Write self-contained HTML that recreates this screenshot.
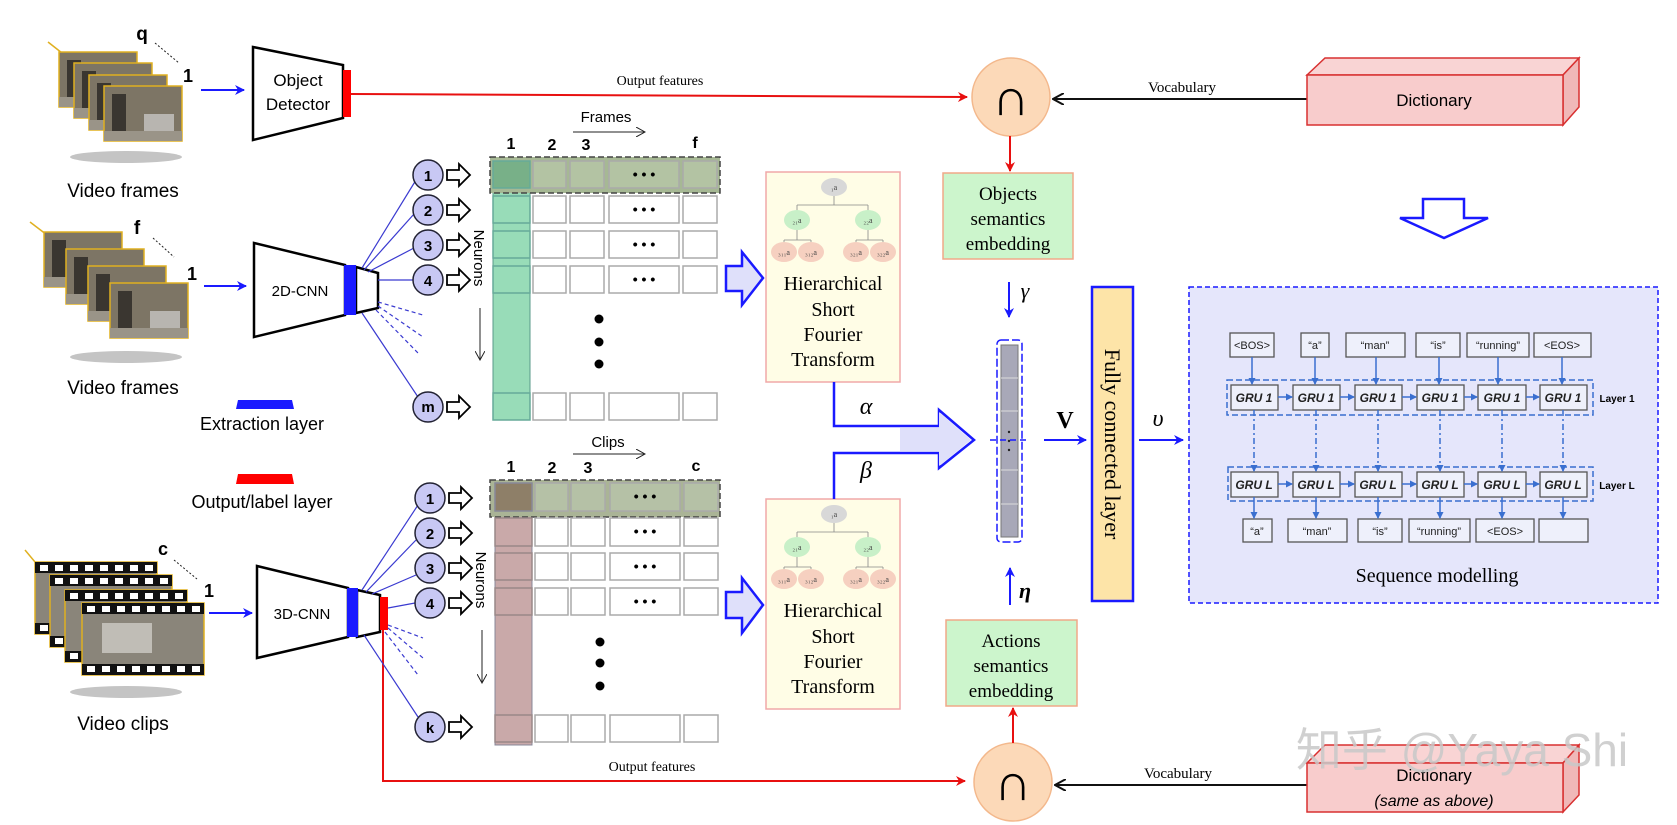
<!DOCTYPE html>
<html><head><meta charset="utf-8"><style>
html,body{margin:0;padding:0;background:#fff;}
svg{display:block;}
.s{font-family:"Liberation Sans",sans-serif;}
.r{font-family:"Liberation Serif",serif;}
</style></head><body>
<svg width="1677" height="825" viewBox="0 0 1677 825" xmlns="http://www.w3.org/2000/svg">
<defs>
<marker id="ab" markerWidth="10" markerHeight="10" refX="9" refY="5" orient="auto" markerUnits="userSpaceOnUse"><path d="M0,0 L10,5 L0,10 L3,5z" fill="#1a1aff"/></marker>
<marker id="ar" markerWidth="10" markerHeight="10" refX="9" refY="5" orient="auto" markerUnits="userSpaceOnUse"><path d="M0,0 L10,5 L0,10 L3,5z" fill="#e81010"/></marker>
<marker id="ak" markerWidth="12" markerHeight="12" refX="10" refY="6" orient="auto" markerUnits="userSpaceOnUse"><path d="M0,0 L11,6 L0,12" fill="none" stroke="#111" stroke-width="2"/></marker>
<marker id="sb" markerWidth="7" markerHeight="7" refX="6" refY="3.5" orient="auto" markerUnits="userSpaceOnUse"><path d="M0,0 L7,3.5 L0,7z" fill="#3a6fd0"/></marker>
<marker id="kk" markerWidth="10" markerHeight="10" refX="9" refY="5" orient="auto" markerUnits="userSpaceOnUse"><path d="M0,0 L9,5 L0,10" fill="none" stroke="#222"/></marker>
<g id="frm"><rect width="78" height="55" fill="#7d7565" stroke="#e0b020" stroke-width="1.5"/><rect x="8" y="8" width="14" height="40" fill="#3a3630"/><rect x="40" y="28" width="30" height="20" fill="#b8b5b0"/><rect x="0" y="45" width="78" height="10" fill="#9a9488"/></g>
<g id="clip"><rect width="122" height="72" fill="#8a857a" stroke="#e0b020" stroke-width="1.5"/><rect x="0" y="0" width="122" height="11" fill="#111"/><rect x="0" y="61" width="122" height="11" fill="#111"/>
<g fill="#fff"><rect x="5" y="3" width="8" height="6"/><rect x="20" y="3" width="8" height="6"/><rect x="35" y="3" width="8" height="6"/><rect x="50" y="3" width="8" height="6"/><rect x="65" y="3" width="8" height="6"/><rect x="80" y="3" width="8" height="6"/><rect x="95" y="3" width="8" height="6"/><rect x="110" y="3" width="8" height="6"/>
<rect x="5" y="63" width="8" height="6"/><rect x="20" y="63" width="8" height="6"/><rect x="35" y="63" width="8" height="6"/><rect x="50" y="63" width="8" height="6"/><rect x="65" y="63" width="8" height="6"/><rect x="80" y="63" width="8" height="6"/><rect x="95" y="63" width="8" height="6"/><rect x="110" y="63" width="8" height="6"/></g>
<rect x="20" y="20" width="50" height="30" fill="#c0bdb6"/></g>
</defs>

<!-- Stack 1 -->
<line x1="48" y1="42" x2="104" y2="86" stroke="#e0b020" stroke-width="1.5"/>
<use href="#frm" x="59" y="52"/><use href="#frm" x="74" y="63"/><use href="#frm" x="89" y="75"/><use href="#frm" x="104" y="86"/>
<ellipse cx="126" cy="157" rx="56" ry="6" fill="#c4c4c4"/>
<text x="142" y="40" class="s" font-size="19" font-weight="bold" text-anchor="middle">q</text>
<line x1="155" y1="43" x2="179" y2="63" stroke="#222" stroke-dasharray="2,2"/>
<text x="188" y="82" class="s" font-size="18" font-weight="bold" text-anchor="middle">1</text>
<text x="123" y="197" class="s" font-size="19" text-anchor="middle">Video frames</text>
<line x1="201" y1="90" x2="244" y2="90" stroke="#1a1aff" stroke-width="2" marker-end="url(#ab)"/>
<path d="M253,47 L343,65 L343,118 L253,140z" fill="#fff" stroke="#000" stroke-width="2.5"/>
<rect x="343" y="70" width="8" height="47" fill="#f00"/>
<text x="298" y="86" class="s" font-size="17" text-anchor="middle">Object</text>
<text x="298" y="110" class="s" font-size="17" text-anchor="middle">Detector</text>
<line x1="351" y1="94" x2="967" y2="97" stroke="#e81010" stroke-width="2" marker-end="url(#ar)"/>
<text x="660" y="85" class="r" font-size="14" text-anchor="middle">Output features</text>

<!-- Stack 2 -->
<line x1="30" y1="222" x2="110" y2="283" stroke="#e0b020" stroke-width="1.5"/>
<use href="#frm" x="44" y="232"/><use href="#frm" x="66" y="249"/><use href="#frm" x="88" y="266"/><use href="#frm" x="110" y="283"/>
<ellipse cx="126" cy="357" rx="56" ry="6" fill="#c4c4c4"/>
<text x="137" y="234" class="s" font-size="19" font-weight="bold" text-anchor="middle">f</text>
<line x1="153" y1="238" x2="174" y2="257" stroke="#222" stroke-dasharray="2,2"/>
<text x="192" y="280" class="s" font-size="18" font-weight="bold" text-anchor="middle">1</text>
<text x="123" y="394" class="s" font-size="19" text-anchor="middle">Video frames</text>
<line x1="204" y1="286" x2="246" y2="286" stroke="#1a1aff" stroke-width="2" marker-end="url(#ab)"/>
<path d="M254,243 L345,265 L345,315 L254,337z" fill="#fff" stroke="#000" stroke-width="2.5"/>
<path d="M356,267 L378,273 L378,308 L356,313z" fill="#fff" stroke="#000" stroke-width="2.5"/>
<rect x="344" y="265" width="12" height="50" fill="#1a1aff"/>
<text x="300" y="296" class="s" font-size="15" text-anchor="middle">2D-CNN</text>

<!-- legends -->
<path d="M238,400 L292,400 L294,409 L236,409z" fill="#1a1aff"/>
<text x="262" y="430" class="s" font-size="18" text-anchor="middle">Extraction layer</text>
<path d="M238,474 L292,474 L294,484 L236,484z" fill="#f00"/>
<text x="262" y="508" class="s" font-size="18" text-anchor="middle">Output/label layer</text>

<!-- Stack 3 clips -->
<line x1="25" y1="550" x2="35" y2="562" stroke="#e0b020" stroke-width="1.5"/>
<use href="#clip" x="35" y="562"/><use href="#clip" x="50" y="575"/><use href="#clip" x="65" y="590"/><use href="#clip" x="82" y="603"/>
<ellipse cx="126" cy="692" rx="56" ry="6" fill="#c4c4c4"/>
<text x="163" y="555" class="s" font-size="18" font-weight="bold" text-anchor="middle">c</text>
<line x1="174" y1="560" x2="197" y2="579" stroke="#222" stroke-dasharray="2,2"/>
<text x="209" y="597" class="s" font-size="18" font-weight="bold" text-anchor="middle">1</text>
<text x="123" y="730" class="s" font-size="19" text-anchor="middle">Video clips</text>
<line x1="209" y1="613" x2="252" y2="613" stroke="#1a1aff" stroke-width="2" marker-end="url(#ab)"/>
<path d="M257,566 L348,588 L348,637 L257,658z" fill="#fff" stroke="#000" stroke-width="2.5"/>
<path d="M357,590 L380,595 L380,632 L357,637z" fill="#fff" stroke="#000" stroke-width="2.5"/>
<rect x="347" y="588" width="11" height="49" fill="#1a1aff"/>
<rect x="380" y="597" width="8" height="33" fill="#f00"/>
<text x="302" y="619" class="s" font-size="15" text-anchor="middle">3D-CNN</text>
<polyline points="383,630 383,781 965,781" fill="none" stroke="#e81010" stroke-width="2" marker-end="url(#ar)"/>
<text x="652" y="771" class="r" font-size="14" text-anchor="middle">Output features</text>

<!-- neuron lines -->
<g stroke="#3a3ad0" stroke-width="1.2">
<line x1="362" y1="268" x2="416" y2="180"/><line x1="364" y1="270" x2="414" y2="214"/><line x1="368" y1="272" x2="414" y2="248"/><line x1="378" y1="280" x2="413" y2="280"/><line x1="362" y1="313" x2="420" y2="400"/>
<g stroke-dasharray="4,3"><line x1="378" y1="302" x2="423" y2="315"/><line x1="378" y1="306" x2="423" y2="337"/><line x1="376" y1="310" x2="418" y2="353"/></g>
<line x1="362" y1="590" x2="418" y2="505"/><line x1="366" y1="592" x2="416" y2="540"/><line x1="372" y1="594" x2="416" y2="575"/><line x1="388" y1="608" x2="415" y2="603"/><line x1="364" y1="635" x2="420" y2="720"/>
<g stroke-dasharray="4,3"><line x1="388" y1="625" x2="423" y2="638"/><line x1="388" y1="628" x2="423" y2="658"/><line x1="385" y1="632" x2="418" y2="675"/></g>
</g>

<!-- Top grid -->
<text x="606" y="122" class="s" font-size="15" text-anchor="middle">Frames</text>
<line x1="573" y1="132" x2="645" y2="132" stroke="#222" marker-end="url(#kk)"/>
<g class="s" font-size="16" font-weight="bold" text-anchor="middle"><text x="511" y="149">1</text><text x="552" y="150">2</text><text x="586" y="150">3</text><text x="695" y="148">f</text></g>
<rect x="493" y="161" width="37" height="259" fill="#98dcb8" stroke="#5a9a8a"/>
<rect x="490" y="157" width="230" height="36" fill="#a6b894" stroke="#444" stroke-width="1.5" stroke-dasharray="6,3"/>
<g stroke="#aaa" stroke-width="1.5" fill="#fff">
<rect x="493" y="161" width="37" height="27" fill="#78b088" stroke="#6a9"/><rect x="533" y="161" width="33" height="27" fill="#b3c3a3"/><rect x="570" y="161" width="34" height="27" fill="#b3c3a3"/><rect x="609" y="161" width="70" height="27" fill="#b3c3a3"/><rect x="683" y="161" width="34" height="27" fill="#b3c3a3"/>
<rect x="493" y="196" width="37" height="27" fill="none" stroke="#6a9"/><rect x="533" y="196" width="33" height="27"/><rect x="570" y="196" width="34" height="27"/><rect x="609" y="196" width="70" height="27"/><rect x="683" y="196" width="34" height="27"/>
<rect x="493" y="231" width="37" height="27" fill="none" stroke="#6a9"/><rect x="533" y="231" width="33" height="27"/><rect x="570" y="231" width="34" height="27"/><rect x="609" y="231" width="70" height="27"/><rect x="683" y="231" width="34" height="27"/>
<rect x="493" y="266" width="37" height="27" fill="none" stroke="#6a9"/><rect x="533" y="266" width="33" height="27"/><rect x="570" y="266" width="34" height="27"/><rect x="609" y="266" width="70" height="27"/><rect x="683" y="266" width="34" height="27"/>
<rect x="493" y="393" width="37" height="27" fill="none" stroke="#6a9"/><rect x="533" y="393" width="33" height="27"/><rect x="570" y="393" width="34" height="27"/><rect x="609" y="393" width="70" height="27"/><rect x="683" y="393" width="34" height="27"/>
</g>
<g class="s" font-size="14" font-weight="bold" text-anchor="middle"><text x="644" y="179">• • •</text><text x="644" y="214">• • •</text><text x="644" y="249">• • •</text><text x="644" y="284">• • •</text></g>
<g fill="#000"><circle cx="599" cy="319" r="4.5"/><circle cx="599" cy="342" r="4.5"/><circle cx="599" cy="364" r="4.5"/></g>
<text transform="translate(474,258) rotate(90)" class="s" font-size="15" text-anchor="middle">Neurons</text>
<line x1="480" y1="308" x2="480" y2="360" stroke="#222" marker-end="url(#kk)"/>
<g stroke="#223" stroke-width="1.5" fill="#c8c8f4">
<circle cx="428" cy="175" r="15"/><circle cx="428" cy="210" r="15"/><circle cx="428" cy="245" r="15"/><circle cx="428" cy="280" r="15"/><circle cx="428" cy="407" r="15"/>
<circle cx="430" cy="498" r="15"/><circle cx="430" cy="533" r="15"/><circle cx="430" cy="568" r="15"/><circle cx="430" cy="603" r="15"/><circle cx="430" cy="727" r="15"/>
</g>
<g class="s" font-size="15" font-weight="bold" text-anchor="middle">
<text x="428" y="181">1</text><text x="428" y="216">2</text><text x="428" y="251">3</text><text x="428" y="286">4</text><text x="428" y="412">m</text>
<text x="430" y="504">1</text><text x="430" y="539">2</text><text x="430" y="574">3</text><text x="430" y="609">4</text><text x="430" y="733">k</text>
</g>
<g fill="#fff" stroke="#000" stroke-width="1.8">
<path id="sa" d="M447,170 L459,170 L459,164 L470,175 L459,186 L459,180 L447,180z"/>
<use href="#sa" y="35"/><use href="#sa" y="70"/><use href="#sa" y="105"/><use href="#sa" y="232"/>
<use href="#sa" x="2" y="323"/><use href="#sa" x="2" y="358"/><use href="#sa" x="2" y="393"/><use href="#sa" x="2" y="428"/><use href="#sa" x="2" y="552"/>
</g>

<!-- Bottom grid -->
<text x="608" y="447" class="s" font-size="15" text-anchor="middle">Clips</text>
<line x1="573" y1="454" x2="645" y2="454" stroke="#222" marker-end="url(#kk)"/>
<g class="s" font-size="16" font-weight="bold" text-anchor="middle"><text x="511" y="472">1</text><text x="552" y="473">2</text><text x="588" y="473">3</text><text x="696" y="471">c</text></g>
<rect x="495" y="483" width="37" height="262" fill="#c9a9a9" stroke="#889"/>
<rect x="490" y="480" width="230" height="37" fill="#aab496" stroke="#444" stroke-width="1.5" stroke-dasharray="6,3"/>
<g stroke="#aaa" stroke-width="1.5" fill="#fff">
<rect x="495" y="483" width="37" height="28" fill="#8e7f68" stroke="#889"/><rect x="535" y="483" width="33" height="28" fill="#b5c1a6"/><rect x="571" y="483" width="34" height="28" fill="#b5c1a6"/><rect x="610" y="483" width="70" height="28" fill="#b5c1a6"/><rect x="684" y="483" width="34" height="28" fill="#b5c1a6"/>
<rect x="495" y="518" width="37" height="28" fill="none" stroke="#988"/><rect x="535" y="518" width="33" height="28"/><rect x="571" y="518" width="34" height="28"/><rect x="610" y="518" width="70" height="28"/><rect x="684" y="518" width="34" height="28"/>
<rect x="495" y="553" width="37" height="27" fill="none" stroke="#988"/><rect x="535" y="553" width="33" height="27"/><rect x="571" y="553" width="34" height="27"/><rect x="610" y="553" width="70" height="27"/><rect x="684" y="553" width="34" height="27"/>
<rect x="495" y="588" width="37" height="27" fill="none" stroke="#988"/><rect x="535" y="588" width="33" height="27"/><rect x="571" y="588" width="34" height="27"/><rect x="610" y="588" width="70" height="27"/><rect x="684" y="588" width="34" height="27"/>
<rect x="495" y="715" width="37" height="27" fill="none" stroke="#988"/><rect x="535" y="715" width="33" height="27"/><rect x="571" y="715" width="34" height="27"/><rect x="610" y="715" width="70" height="27"/><rect x="684" y="715" width="34" height="27"/>
</g>
<g class="s" font-size="14" font-weight="bold" text-anchor="middle"><text x="645" y="501">• • •</text><text x="645" y="536">• • •</text><text x="645" y="571">• • •</text><text x="645" y="606">• • •</text></g>
<g fill="#000"><circle cx="600" cy="642" r="4.5"/><circle cx="600" cy="663" r="4.5"/><circle cx="600" cy="686" r="4.5"/></g>
<text transform="translate(476,580) rotate(90)" class="s" font-size="15" text-anchor="middle">Neurons</text>
<line x1="482" y1="630" x2="482" y2="683" stroke="#222" marker-end="url(#kk)"/>

<!-- big hollow arrows -->
<path d="M726,266 L742,266 L742,252 L763,278 L742,305 L742,291 L726,291z" fill="#dfe0fa" stroke="#1a1aff" stroke-width="2.5"/>
<path d="M726,592 L742,592 L742,578 L763,605 L742,633 L742,618 L726,618z" fill="#dfe0fa" stroke="#1a1aff" stroke-width="2.5"/>

<!-- HSFT boxes -->
<g id="hs">
<rect x="766" y="172" width="134" height="210" fill="#fffde6" stroke="#f0a8a8" stroke-width="1.5"/>
<g stroke="#888" stroke-width="0.8" fill="none"><path d="M834,195 V205 M797,205 H868 M797,205 V211 M868,205 V211 M797,228 V240 M784,240 H811 M784,240 V244 M811,240 V244 M868,228 V240 M856,240 H883 M856,240 V244 M883,240 V244"/></g>
<ellipse cx="834" cy="187" rx="13" ry="9" fill="#d8d8d8"/>
<ellipse cx="797" cy="220" rx="13" ry="10" fill="#c8f0c8"/><ellipse cx="868" cy="220" rx="13" ry="10" fill="#c8f0c8"/>
<ellipse cx="784" cy="252" rx="13" ry="10" fill="#f6d0c0"/><ellipse cx="811" cy="252" rx="13" ry="10" fill="#f6d0c0"/><ellipse cx="856" cy="252" rx="13" ry="10" fill="#f6d0c0"/><ellipse cx="883" cy="252" rx="13" ry="10" fill="#f6d0c0"/>
<g class="r" font-size="8" text-anchor="middle" fill="#444"><text x="834" y="190">₁a</text><text x="797" y="223">₂₁a</text><text x="868" y="223">₂₂a</text><text x="784" y="255">₃₁₁a</text><text x="811" y="255">₃₁₂a</text><text x="856" y="255">₃₂₁a</text><text x="883" y="255">₃₂₂a</text></g>
<g class="r" font-size="20" text-anchor="middle"><text x="833" y="290">Hierarchical</text><text x="833" y="316">Short</text><text x="833" y="341">Fourier</text><text x="833" y="366">Transform</text></g>
</g>
<use href="#hs" y="327"/>

<!-- alpha/beta converging arrow -->
<path d="M834,382 V426 H939 V410 L974,440 L939,468 V453 H834 V499" fill="none" stroke="#1a1aff" stroke-width="2.5"/>
<path d="M900,428 H939 V412 L971,440 L939,466 V451 H900z" fill="#dfe0fa"/>
<text x="866" y="414" class="r" font-size="24" font-style="italic" text-anchor="middle">α</text>
<text x="866" y="478" class="r" font-size="24" font-style="italic" text-anchor="middle">β</text>

<!-- circles -->
<circle cx="1011" cy="97" r="39" fill="#fcd9b8" stroke="#f3b88c" stroke-width="1.5"/>
<text x="1011" y="115" class="s" font-size="52" font-weight="bold" text-anchor="middle">∩</text>
<circle cx="1013" cy="782" r="39" fill="#fcd9b8" stroke="#f3b88c" stroke-width="1.5"/>
<text x="1013" y="800" class="s" font-size="52" font-weight="bold" text-anchor="middle">∩</text>
<line x1="1307" y1="99" x2="1054" y2="99" stroke="#111" stroke-width="2" marker-end="url(#ak)"/>
<text x="1182" y="92" class="r" font-size="15" text-anchor="middle">Vocabulary</text>
<line x1="1307" y1="785" x2="1056" y2="785" stroke="#111" stroke-width="2" marker-end="url(#ak)"/>
<text x="1178" y="778" class="r" font-size="15" text-anchor="middle">Vocabulary</text>
<line x1="1010" y1="136" x2="1010" y2="171" stroke="#e81010" stroke-width="2" marker-end="url(#ar)"/>
<line x1="1013" y1="743" x2="1013" y2="708" stroke="#e81010" stroke-width="2" marker-end="url(#ar)"/>

<!-- dictionaries -->
<g stroke="#d83030" stroke-width="1.5">
<path d="M1307,75 L1325,58 L1579,58 L1563,75z" fill="#f9d4d4"/><path d="M1563,75 L1579,58 L1579,107 L1563,125z" fill="#f0b8b8"/><rect x="1307" y="75" width="256" height="50" fill="#f8cccc"/>
<path d="M1307,763 L1325,745 L1579,745 L1563,763z" fill="#f9d4d4"/><path d="M1563,763 L1579,745 L1579,795 L1563,812z" fill="#f0b8b8"/><rect x="1307" y="763" width="256" height="49" fill="#f8cccc"/>
</g>
<text x="1434" y="106" class="s" font-size="17" text-anchor="middle">Dictionary</text>
<text x="1434" y="781" class="s" font-size="17" text-anchor="middle">Dictionary</text>
<text x="1434" y="806" class="s" font-size="16" font-style="italic" text-anchor="middle">(same as above)</text>

<!-- embeddings -->
<rect x="943" y="173" width="130" height="86" fill="#ccf5cc" stroke="#f0a888" stroke-width="1.5"/>
<g class="r" font-size="19" text-anchor="middle"><text x="1008" y="200">Objects</text><text x="1008" y="225">semantics</text><text x="1008" y="250">embedding</text></g>
<rect x="946" y="620" width="131" height="86" fill="#ccf5cc" stroke="#f0a888" stroke-width="1.5"/>
<g class="r" font-size="19" text-anchor="middle"><text x="1011" y="647">Actions</text><text x="1011" y="672">semantics</text><text x="1011" y="697">embedding</text></g>
<line x1="1009" y1="282" x2="1009" y2="317" stroke="#1a1aff" stroke-width="2" marker-end="url(#ab)"/>
<text x="1025" y="298" class="r" font-size="22" font-style="italic" text-anchor="middle">γ</text>
<line x1="1010" y1="605" x2="1010" y2="568" stroke="#1a1aff" stroke-width="2" marker-end="url(#ab)"/>
<text x="1025" y="598" class="r" font-size="22" font-style="italic" font-weight="bold" text-anchor="middle">η</text>

<!-- vector -->
<rect x="997" y="340" width="25" height="202" rx="4" fill="#fff" stroke="#1a1aff" stroke-width="1.5" stroke-dasharray="8,3"/>
<rect x="1001" y="345" width="17" height="192" fill="#a8a8b8" stroke="#777"/>
<g stroke="#ddd"><line x1="1001" y1="378" x2="1018" y2="378"/><line x1="1001" y1="411" x2="1018" y2="411"/><line x1="1001" y1="470" x2="1018" y2="470"/><line x1="1001" y1="504" x2="1018" y2="504"/></g>
<g fill="#222"><circle cx="1009" cy="432" r="1.2"/><circle cx="1009" cy="441" r="1.2"/><circle cx="1009" cy="450" r="1.2"/></g>
<line x1="990" y1="440" x2="1030" y2="440" stroke="#1a1aff" stroke-width="1.5" stroke-dasharray="6,4"/>
<text x="1065" y="428" class="r" font-size="24" font-weight="bold" text-anchor="middle">V</text>
<line x1="1044" y1="440" x2="1086" y2="440" stroke="#1a1aff" stroke-width="2" marker-end="url(#ab)"/>
<rect x="1092" y="287" width="41" height="314" fill="#fde4a8" stroke="#1a1aff" stroke-width="2.5"/>
<text transform="translate(1112,444) rotate(90)" class="r" font-size="22" text-anchor="middle" dy="7">Fully connected layer</text>
<text x="1158" y="426" class="r" font-size="24" font-style="italic" text-anchor="middle">υ</text>
<line x1="1139" y1="440" x2="1183" y2="440" stroke="#1a1aff" stroke-width="2" marker-end="url(#ab)"/>

<!-- big down arrow -->
<path d="M1423,199 H1464 V218 H1488 L1444,238 L1400,218 H1423z" fill="#fff" stroke="#1a1aff" stroke-width="2.5"/>

<!-- Sequence box -->
<rect x="1189" y="287" width="469" height="316" fill="#e5e6fb" stroke="#1a1aff" stroke-width="1.5" stroke-dasharray="5,3"/>
<g stroke="#555" stroke-width="1.3" fill="#eef0fb">
<rect x="1230" y="333" width="44" height="24"/><rect x="1301" y="333" width="28" height="24"/><rect x="1346" y="333" width="59" height="24"/><rect x="1416" y="333" width="44" height="24"/><rect x="1467" y="333" width="62" height="24"/><rect x="1534" y="333" width="57" height="24"/>
<rect x="1243" y="519" width="29" height="23"/><rect x="1288" y="519" width="59" height="23"/><rect x="1358" y="519" width="44" height="23"/><rect x="1409" y="519" width="61" height="23"/><rect x="1476" y="519" width="58" height="23"/><rect x="1539" y="519" width="49" height="23"/>
</g>
<g class="s" font-size="11" text-anchor="middle" fill="#222">
<text x="1252" y="349">&lt;BOS&gt;</text><text x="1315" y="349">“a”</text><text x="1375" y="349">“man”</text><text x="1438" y="349">“is”</text><text x="1498" y="349">“running”</text><text x="1562" y="349">&lt;EOS&gt;</text>
<text x="1257" y="535">“a”</text><text x="1317" y="535">“man”</text><text x="1380" y="535">“is”</text><text x="1439" y="535">“running”</text><text x="1505" y="535">&lt;EOS&gt;</text>
</g>
<rect x="1227" y="380" width="366" height="35" fill="none" stroke="#3a6fd0" stroke-width="1.5" stroke-dasharray="6,3"/>
<rect x="1228" y="467" width="365" height="34" fill="none" stroke="#3a6fd0" stroke-width="1.5" stroke-dasharray="6,3"/>
<g stroke="#555" stroke-width="1.3" fill="#eef0fb">
<rect x="1231" y="385" width="47" height="25"/><rect x="1293" y="385" width="47" height="25"/><rect x="1355" y="385" width="47" height="25"/><rect x="1417" y="385" width="47" height="25"/><rect x="1478" y="385" width="48" height="25"/><rect x="1540" y="385" width="47" height="25"/>
<rect x="1231" y="472" width="47" height="25"/><rect x="1293" y="472" width="47" height="25"/><rect x="1355" y="472" width="47" height="25"/><rect x="1417" y="472" width="47" height="25"/><rect x="1478" y="472" width="48" height="25"/><rect x="1540" y="472" width="47" height="25"/>
</g>
<g class="s" font-size="12" font-weight="bold" font-style="italic" text-anchor="middle" fill="#222">
<text x="1254" y="402">GRU 1</text><text x="1316" y="402">GRU 1</text><text x="1378" y="402">GRU 1</text><text x="1440" y="402">GRU 1</text><text x="1502" y="402">GRU 1</text><text x="1563" y="402">GRU 1</text>
<text x="1254" y="489">GRU L</text><text x="1316" y="489">GRU L</text><text x="1378" y="489">GRU L</text><text x="1440" y="489">GRU L</text><text x="1502" y="489">GRU L</text><text x="1563" y="489">GRU L</text>
</g>
<text x="1617" y="402" class="s" font-size="10" font-weight="bold" text-anchor="middle">Layer 1</text>
<text x="1617" y="489" class="s" font-size="10" font-weight="bold" text-anchor="middle">Layer L</text>
<g stroke="#3a6fd0" stroke-width="1.5">
<line x1="1252" y1="357" x2="1252" y2="384" marker-end="url(#sb)"/><line x1="1315" y1="357" x2="1315" y2="384" marker-end="url(#sb)"/><line x1="1376" y1="357" x2="1376" y2="384" marker-end="url(#sb)"/><line x1="1439" y1="357" x2="1439" y2="384" marker-end="url(#sb)"/><line x1="1498" y1="357" x2="1498" y2="384" marker-end="url(#sb)"/><line x1="1562" y1="357" x2="1562" y2="384" marker-end="url(#sb)"/>
<line x1="1278" y1="397" x2="1292" y2="397" marker-end="url(#sb)"/><line x1="1340" y1="397" x2="1354" y2="397" marker-end="url(#sb)"/><line x1="1402" y1="397" x2="1416" y2="397" marker-end="url(#sb)"/><line x1="1464" y1="397" x2="1477" y2="397" marker-end="url(#sb)"/><line x1="1526" y1="397" x2="1539" y2="397" marker-end="url(#sb)"/>
<line x1="1278" y1="484" x2="1292" y2="484" marker-end="url(#sb)"/><line x1="1340" y1="484" x2="1354" y2="484" marker-end="url(#sb)"/><line x1="1402" y1="484" x2="1416" y2="484" marker-end="url(#sb)"/><line x1="1464" y1="484" x2="1477" y2="484" marker-end="url(#sb)"/><line x1="1526" y1="484" x2="1539" y2="484" marker-end="url(#sb)"/>
<g stroke-dasharray="6,3,2,3"><line x1="1254" y1="410" x2="1254" y2="471" marker-end="url(#sb)"/><line x1="1316" y1="410" x2="1316" y2="471" marker-end="url(#sb)"/><line x1="1378" y1="410" x2="1378" y2="471" marker-end="url(#sb)"/><line x1="1440" y1="410" x2="1440" y2="471" marker-end="url(#sb)"/><line x1="1502" y1="410" x2="1502" y2="471" marker-end="url(#sb)"/><line x1="1563" y1="410" x2="1563" y2="471" marker-end="url(#sb)"/></g>
<line x1="1254" y1="497" x2="1254" y2="518" marker-end="url(#sb)"/><line x1="1316" y1="497" x2="1316" y2="518" marker-end="url(#sb)"/><line x1="1378" y1="497" x2="1378" y2="518" marker-end="url(#sb)"/><line x1="1440" y1="497" x2="1440" y2="518" marker-end="url(#sb)"/><line x1="1502" y1="497" x2="1502" y2="518" marker-end="url(#sb)"/><line x1="1563" y1="497" x2="1563" y2="518" marker-end="url(#sb)"/>
</g>
<text x="1437" y="582" class="r" font-size="20" text-anchor="middle">Sequence modelling</text>

<!-- watermark -->
<text x="1462" y="766" font-family="'Liberation Sans','Noto Sans CJK SC',sans-serif" font-size="46" fill="#c8c8c8" fill-opacity="0.85" text-anchor="middle">知乎 @Yaya Shi</text>
</svg>
</body></html>
